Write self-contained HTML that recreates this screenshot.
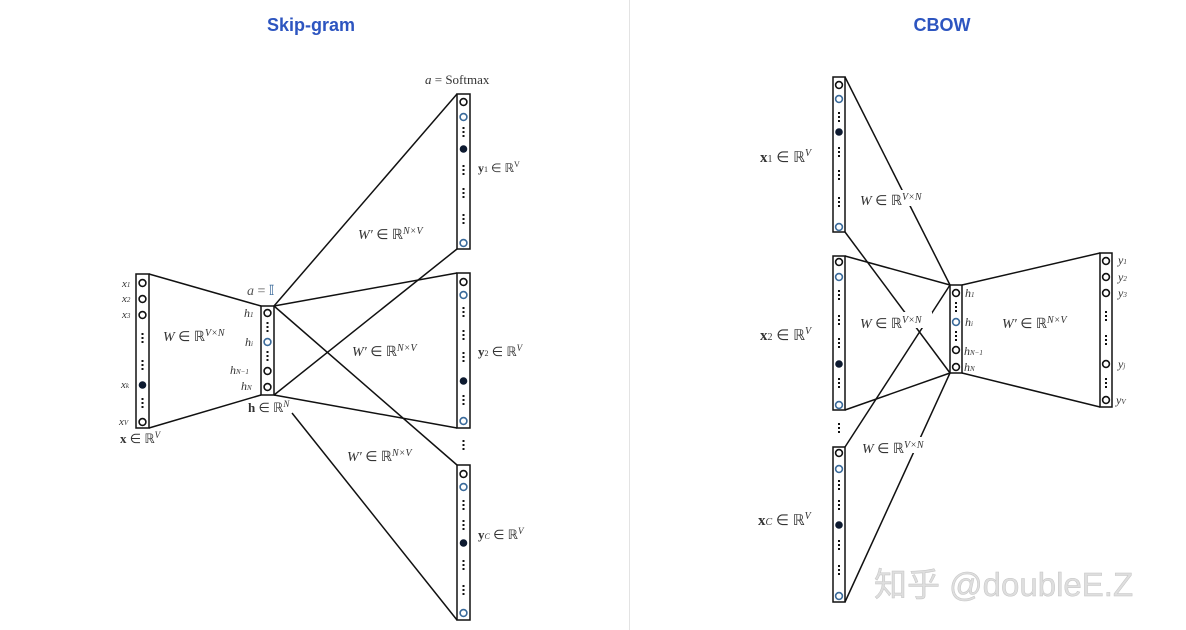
<!DOCTYPE html>
<html><head><meta charset="utf-8"><style>
html,body{margin:0;padding:0;background:#fff;width:1186px;height:630px;overflow:hidden}
svg{display:block}
.t{font-family:"Liberation Sans",sans-serif;font-weight:bold;font-size:18px;fill:#2d55c0}
.m{font-family:"Liberation Serif",serif;font-size:14px;fill:#333}
.i{font-style:italic}
.b{font-weight:bold;font-style:normal}
</style></head><body>
<svg width="1186" height="630" viewBox="0 0 1186 630" xmlns="http://www.w3.org/2000/svg">
<defs>
<g id="c"><circle r="3.4" fill="#fff" stroke="#111" stroke-width="1.6"/></g>
<g id="bc"><circle r="3.4" fill="#fff" stroke="#3a6a9a" stroke-width="1.6"/></g>
<g id="fc"><circle r="3.8" fill="#0d1a30"/></g>
<g id="d" fill="#111"><rect x="-1" y="-5" width="2" height="2"/><rect x="-1" y="-1" width="2" height="2"/><rect x="-1" y="3" width="2" height="2"/></g>
</defs>
<rect width="1186" height="630" fill="#fff"/>
<line x1="629.5" y1="0" x2="629.5" y2="630" stroke="#e3e3e3"/>
<text class="t" x="311" y="31" text-anchor="middle">Skip-gram</text>
<text class="t" x="942" y="31" text-anchor="middle">CBOW</text>

<g stroke="#111" stroke-width="1.5" fill="none">
<line x1="149" y1="274" x2="261" y2="306"/>
<line x1="149" y1="428" x2="261" y2="395"/>
<line x1="274" y1="306" x2="457" y2="94"/>
<line x1="274" y1="306" x2="457" y2="273"/>
<line x1="274" y1="306" x2="457" y2="465"/>
<line x1="274" y1="395" x2="457" y2="249"/>
<line x1="274" y1="395" x2="457" y2="428"/>
<line x1="292" y1="413" x2="457" y2="620"/>
<rect x="136" y="274" width="13" height="154"/>
<rect x="261" y="306" width="13" height="89"/>
<rect x="457" y="94" width="13" height="155"/>
<rect x="457" y="273" width="13" height="155"/>
<rect x="457" y="465" width="13" height="155"/>
<line x1="845" y1="77" x2="950" y2="285"/>
<line x1="845" y1="232" x2="950" y2="373"/>
<line x1="845" y1="256" x2="950" y2="285"/>
<line x1="845" y1="410" x2="950" y2="373"/>
<line x1="845" y1="447" x2="950" y2="285"/>
<line x1="845" y1="602" x2="950" y2="373"/>
<line x1="962" y1="285" x2="1100" y2="253"/>
<line x1="962" y1="373" x2="1100" y2="407"/>
<rect x="833" y="77" width="12" height="155"/>
<rect x="833" y="256" width="12" height="154"/>
<rect x="833" y="447" width="12" height="155"/>
<rect x="950" y="285" width="12" height="88"/>
<rect x="1100" y="253" width="12" height="154"/>
</g>
<g fill="#fff">
<rect x="860" y="190" width="72" height="16"/>
<rect x="860" y="312" width="72" height="16"/>
<rect x="862" y="437" width="72" height="16"/>
<rect x="356" y="224" width="74" height="16"/>
<rect x="350" y="341" width="74" height="16"/>
<rect x="346" y="446" width="74" height="16"/>
</g>

<g transform="translate(142.5,0)">
<use href="#c" y="283"/><use href="#c" y="299"/><use href="#c" y="315"/><use href="#d" y="338"/><use href="#d" y="365"/><use href="#fc" y="385"/><use href="#d" y="403"/><use href="#c" y="422"/>
</g>
<g transform="translate(267.5,0)">
<use href="#c" y="313"/><use href="#d" y="327"/><use href="#bc" y="342"/><use href="#d" y="356"/><use href="#c" y="371"/><use href="#c" y="387"/>
</g>
<g transform="translate(463.5,0)">
<use href="#c" y="102"/><use href="#bc" y="117"/><use href="#d" y="132"/><use href="#fc" y="149"/><use href="#d" y="170"/><use href="#d" y="193"/><use href="#d" y="219"/><use href="#bc" y="243"/>
<use href="#c" y="282"/><use href="#bc" y="295"/><use href="#d" y="312"/><use href="#d" y="335"/><use href="#d" y="357"/><use href="#fc" y="381"/><use href="#d" y="400"/><use href="#bc" y="421"/>
<use href="#d" y="445"/>
<use href="#c" y="474"/><use href="#bc" y="487"/><use href="#d" y="505"/><use href="#d" y="525"/><use href="#fc" y="543"/><use href="#d" y="565"/><use href="#d" y="590"/><use href="#bc" y="613"/>
</g>
<g transform="translate(839,0)">
<use href="#c" y="85"/><use href="#bc" y="99"/><use href="#d" y="117"/><use href="#fc" y="132"/><use href="#d" y="152"/><use href="#d" y="175"/><use href="#d" y="202"/><use href="#bc" y="227"/>
<use href="#c" y="262"/><use href="#bc" y="277"/><use href="#d" y="295"/><use href="#d" y="320"/><use href="#d" y="343"/><use href="#fc" y="364"/><use href="#d" y="383"/><use href="#bc" y="405"/>
<use href="#d" y="428"/>
<use href="#c" y="453"/><use href="#bc" y="469"/><use href="#d" y="485"/><use href="#d" y="505"/><use href="#fc" y="525"/><use href="#d" y="545"/><use href="#d" y="570"/><use href="#bc" y="596"/>
</g>
<g transform="translate(956,0)">
<use href="#c" y="293"/><use href="#d" y="307"/><use href="#bc" y="322"/><use href="#d" y="336"/><use href="#c" y="350"/><use href="#c" y="367"/>
</g>
<g transform="translate(1106,0)">
<use href="#c" y="261"/><use href="#c" y="277"/><use href="#c" y="293"/><use href="#d" y="316"/><use href="#d" y="340"/><use href="#c" y="364"/><use href="#d" y="383"/><use href="#c" y="400"/>
</g>

<g class="m">
<text x="425" y="84" font-size="13"><tspan class="i">a</tspan> = Softmax</text>
<text x="478" y="172" font-size="12"><tspan class="b">y</tspan><tspan font-size="8">1</tspan> ∈ ℝ<tspan font-size="8" dy="-5">V</tspan></text>
<text x="358" y="239"><tspan class="i">W′</tspan> ∈ ℝ<tspan font-size="10" dy="-5" class="i">N×V</tspan></text>
<text x="247" y="295" fill="#555"><tspan class="i">a</tspan> = <tspan fill="#3a6a9a">𝕀</tspan></text>
<text x="122" y="287" font-size="11" class="i">x<tspan font-size="7">1</tspan></text>
<text x="122" y="302" font-size="11" class="i">x<tspan font-size="7">2</tspan></text>
<text x="122" y="318" font-size="11" class="i">x<tspan font-size="7">3</tspan></text>
<text x="121" y="388" font-size="11" class="i">x<tspan font-size="7">k</tspan></text>
<text x="119" y="425" font-size="11" class="i">x<tspan font-size="7">V</tspan></text>
<text x="120" y="443" font-size="13"><tspan class="b">x</tspan> ∈ ℝ<tspan font-size="9" dy="-5" class="i">V</tspan></text>
<text x="163" y="341"><tspan class="i">W</tspan> ∈ ℝ<tspan font-size="10" dy="-5" class="i">V×N</tspan></text>
<text x="244" y="317" font-size="12" class="i">h<tspan font-size="7">1</tspan></text>
<text x="245" y="346" font-size="12" class="i">h<tspan font-size="7">i</tspan></text>
<text x="230" y="374" font-size="12" class="i">h<tspan font-size="7">N−1</tspan></text>
<text x="241" y="390" font-size="12" class="i">h<tspan font-size="7">N</tspan></text>
<text x="248" y="412" font-size="13"><tspan class="b">h</tspan> ∈ ℝ<tspan font-size="9" dy="-5" class="i">N</tspan></text>
<text x="352" y="356"><tspan class="i">W′</tspan> ∈ ℝ<tspan font-size="10" dy="-5" class="i">N×V</tspan></text>
<text x="478" y="356" font-size="13"><tspan class="b">y</tspan><tspan font-size="8">2</tspan> ∈ ℝ<tspan font-size="9" dy="-5" class="i">V</tspan></text>
<text x="347" y="461"><tspan class="i">W′</tspan> ∈ ℝ<tspan font-size="10" dy="-5" class="i">N×V</tspan></text>
<text x="478" y="539" font-size="13"><tspan class="b">y</tspan><tspan font-size="8" class="i">C</tspan> ∈ ℝ<tspan font-size="9" dy="-5" class="i">V</tspan></text>
</g>
<g class="m">
<text x="760" y="162" font-size="15"><tspan class="b">x</tspan><tspan font-size="10">1</tspan> ∈ ℝ<tspan font-size="10" dy="-6" class="i">V</tspan></text>
<text x="860" y="205"><tspan class="i">W</tspan> ∈ ℝ<tspan font-size="10" dy="-5" class="i">V×N</tspan></text>
<text x="760" y="340" font-size="15"><tspan class="b">x</tspan><tspan font-size="10">2</tspan> ∈ ℝ<tspan font-size="10" dy="-6" class="i">V</tspan></text>
<text x="860" y="328"><tspan class="i">W</tspan> ∈ ℝ<tspan font-size="10" dy="-5" class="i">V×N</tspan></text>
<text x="1002" y="328"><tspan class="i">W′</tspan> ∈ ℝ<tspan font-size="10" dy="-5" class="i">N×V</tspan></text>
<text x="758" y="525" font-size="15"><tspan class="b">x</tspan><tspan font-size="10" class="i">C</tspan> ∈ ℝ<tspan font-size="10" dy="-6" class="i">V</tspan></text>
<text x="862" y="453"><tspan class="i">W</tspan> ∈ ℝ<tspan font-size="10" dy="-5" class="i">V×N</tspan></text>
<text x="965" y="297" font-size="12" class="i">h<tspan font-size="7">1</tspan></text>
<text x="965" y="326" font-size="12" class="i">h<tspan font-size="7">i</tspan></text>
<text x="964" y="355" font-size="12" class="i">h<tspan font-size="7">N−1</tspan></text>
<text x="964" y="371" font-size="12" class="i">h<tspan font-size="7">N</tspan></text>
<text x="1118" y="264" font-size="12" class="i">y<tspan font-size="7">1</tspan></text>
<text x="1118" y="281" font-size="12" class="i">y<tspan font-size="7">2</tspan></text>
<text x="1118" y="297" font-size="12" class="i">y<tspan font-size="7">3</tspan></text>
<text x="1118" y="368" font-size="12" class="i">y<tspan font-size="7">j</tspan></text>
<text x="1116" y="404" font-size="12" class="i">y<tspan font-size="7">V</tspan></text>
</g>
<text x="874" y="596" font-family="'Liberation Sans','Noto Sans CJK SC',sans-serif" font-size="33" fill="#dedede" stroke="#c4c4c4" stroke-width="0.5">知乎 @doubleE.Z</text>
</svg>
</body></html>
